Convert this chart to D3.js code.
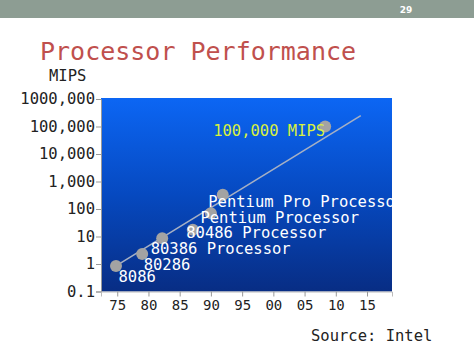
<!DOCTYPE html>
<html>
<head>
<meta charset="utf-8">
<script src="https://cdn.jsdelivr.net/npm/d3@7"></script>
<style>
  html, body { margin: 0; padding: 0; background: #ffffff; }
  svg { display: block; }
  text { font-family: 'DejaVu Sans Mono', monospace; }
</style>
</head>
<body>
<svg id="chart" width="474" height="355"></svg>
<script>
// Intel processor performance over time (MIPS, log scale)
const processors = ["8086", "80286", "80386 Processor", "80486 Processor",
                    "Pentium Processor", "Pentium Pro Processor", "100,000 MIPS"];
const years      = [1974.8, 1979.0, 1982.2, 1987.1, 1990.0, 1991.9, 2008.3];
const mips       = [0.85, 2.3, 8.7, 17.5, 70, 330, 100000];

// trend line drawn across the chip generations
const trendYears = [1974.8, 2014.0];
const trendMips  = [0.85, 250000];

const yTickValues = [0.1, 1, 10, 100, 1000, 10000, 100000, 1000000];
const yTickLabels = ["0.1", "1", "10", "100", "1,000", "10,000", "100,000", "1000,000"];
const xTickValues = [1975, 1980, 1985, 1990, 1995, 2000, 2005, 2010, 2015];
const xTickLabels = ["75", "80", "85", "90", "95", "00", "05", "10", "15"];

const svg = d3.select("#chart");

// slide header strip and page number
svg.append("rect").attr("x", 0).attr("y", 0).attr("width", 474).attr("height", 18)
  .attr("fill", "#8d9d93");
svg.append("text").attr("x", 406).attr("y", 13).attr("text-anchor", "middle")
  .style("font-family", "'DejaVu Sans', sans-serif").style("font-weight", "bold")
  .style("font-size", "9px").attr("fill", "#ffffff").text("29");

// title
svg.append("text").attr("x", 40).attr("y", 60)
  .style("font-size", "25px").attr("fill", "#c0504d").text("Processor Performance");

svg.append("text").attr("x", 49).attr("y", 81)
  .style("font-size", "15.5px").attr("fill", "#222").text("MIPS");

// scales
const plot = { left: 101, right: 392, top: 98, bottom: 291.5 };
const x = d3.scaleLinear().domain([1972.4, 2019.0]).range([plot.left, plot.right]);
const y = d3.scaleLog().domain([0.1, 1000000]).range([291.5, 99]);

// gradient background of the plot area
const defs = svg.append("defs");
const grad = defs.append("linearGradient").attr("id", "bg")
  .attr("x1", 0).attr("y1", 0).attr("x2", 0).attr("y2", 1);
grad.append("stop").attr("offset", "0%").attr("stop-color", "#0c66f4");
grad.append("stop").attr("offset", "50%").attr("stop-color", "#0649c0");
grad.append("stop").attr("offset", "100%").attr("stop-color", "#082d84");
defs.append("clipPath").attr("id", "plotClip").append("rect")
  .attr("x", plot.left).attr("y", plot.top)
  .attr("width", plot.right - plot.left).attr("height", plot.bottom - plot.top);

svg.append("rect")
  .attr("x", plot.left).attr("y", plot.top)
  .attr("width", plot.right - plot.left).attr("height", plot.bottom - plot.top)
  .attr("fill", "url(#bg)");

// axes
const yAxis = d3.axisLeft(y).tickValues(yTickValues)
  .tickFormat((d, i) => yTickLabels[i]).tickSizeOuter(0).tickSize(5).tickPadding(1);
const gy = svg.append("g").attr("transform", `translate(${plot.left},0)`).call(yAxis);
gy.selectAll(".tick line").attr("stroke", "#999");
gy.select(".domain").attr("stroke", "#999");
gy.selectAll("text").style("font-size", "15.5px").style("font-family", "'DejaVu Sans Mono', monospace")
  .attr("fill", "#222");

const xAxis = d3.axisBottom(x).tickValues(xTickValues)
  .tickFormat((d, i) => xTickLabels[i]).tickSizeOuter(0).tickSize(5).tickPadding(4);
const gx = svg.append("g").attr("transform", `translate(0,${plot.bottom})`).call(xAxis);
gx.selectAll(".tick line").attr("stroke", "#999");
gx.select(".domain").attr("stroke", "#bbb");
gx.selectAll("text").style("font-size", "14px").style("font-family", "'DejaVu Sans Mono', monospace")
  .attr("fill", "#222");

// marks, clipped to the plot area
const inner = svg.append("g").attr("clip-path", "url(#plotClip)");

const trend = trendYears.map((yr, i) => [yr, trendMips[i]]);
inner.append("path").datum(trend)
  .attr("d", d3.line().x(d => x(d[0])).y(d => y(d[1])))
  .attr("fill", "none").attr("stroke", "#a6b0c4").attr("stroke-width", 1.6);

const pts = processors.map((name, i) => ({ name, year: years[i], mips: mips[i] }));
inner.selectAll("circle").data(pts).join("circle")
  .attr("cx", d => x(d.year)).attr("cy", d => y(d.mips)).attr("r", 6)
  .attr("fill", "#a3a3a3");

// label offsets from each point
const labelDx = [2.5, 1.5, -11.5, -6.5, -10.5, -14.5, -112];
const labelDy = [16, 15.7, 15.7, 8.5, 9.5, 12, 9.8];
inner.selectAll("text.lbl").data(pts).join("text").attr("class", "lbl")
  .attr("x", (d, i) => x(d.year) + labelDx[i])
  .attr("y", (d, i) => y(d.mips) + labelDy[i])
  .style("font-size", "15.5px")
  .attr("fill", (d, i) => i === pts.length - 1 ? "#d8f040" : "#ffffff")
  .text(d => d.name);

// source note
svg.append("text").attr("x", 311).attr("y", 341)
  .style("font-size", "15.5px").attr("fill", "#222").text("Source: Intel");
</script>
</body>
</html>
